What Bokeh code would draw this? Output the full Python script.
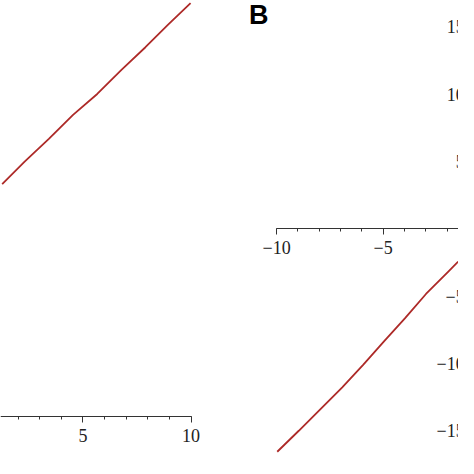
from bokeh.plotting import figure
from bokeh.models import LinearAxis, FixedTicker, Range1d, Label
from bokeh.layouts import row
from bokeh.embed import file_html
from bokeh.resources import INLINE

# ---- data ----
# Panel A (left, partly cut off)
a_x = [1.26, 2.30, 3.42, 4.54, 5.66, 6.78, 7.89, 8.94, 9.98]
a_y = [17.32, 18.99, 20.68, 22.47, 24.03, 25.83, 27.51, 29.19, 30.79]
a_xticks = [0, 5, 10]
a_xminor = list(range(0, 11))

# Panel B (right, partly cut off)
b_x = [-9.97, -8.96, -6.92, -5.94, -4.95, -3.97, -2.99, -1.93, -1.48]
b_y = [-16.56, -15.0, -11.77, -10.1, -8.34, -6.63, -4.84, -3.16, -2.44]
b_xticks = [-10, -5, 0, 5, 10]
b_xminor = list(range(-10, 11))
b_yticks = [-15, -10, -5, 5, 10, 15]
b_xlabels = {-10: "\u221210", -5: "\u22125", 0: "0", 5: "5", 10: "10"}
b_ylabels = {-15: "\u221215", -10: "\u221210", -5: "\u22125", 5: "5", 10: "10", 15: "15"}
panel_label = "B"

LINE_COLOR = "#ad2a28"
AXIS_COLOR = "#333333"
SERIF = "Liberation Serif"


def make_fig(w, h, xr, yr):
    p = figure(width=w, height=h, x_range=Range1d(*xr), y_range=Range1d(*yr),
               x_axis_location=None, y_axis_location=None,
               output_backend="svg", toolbar_location=None,
               min_border=0, min_border_left=0, min_border_right=0,
               min_border_top=0, min_border_bottom=0)
    p.xgrid.visible = False
    p.ygrid.visible = False
    p.outline_line_color = None
    p.background_fill_color = "white"
    p.border_fill_color = "white"
    return p


def style_x_axis(ax):
    ax.axis_line_color = AXIS_COLOR
    ax.axis_line_width = 1
    ax.major_tick_line_color = AXIS_COLOR
    ax.minor_tick_line_color = AXIS_COLOR
    ax.major_tick_in = 0
    ax.major_tick_out = 6
    ax.minor_tick_in = 0
    ax.minor_tick_out = 3
    ax.major_label_text_font = SERIF
    ax.major_label_text_font_size = "18px"
    ax.major_label_text_color = "#222222"
    ax.major_label_standoff = 6


# ---- Panel A ----
pa = make_fig(232, 458, (1.183, 11.92), (-3.115, 30.99))
axa = LinearAxis(fixed_location=0, ticker=FixedTicker(ticks=a_xticks, minor_ticks=a_xminor),
                 bounds=(0, 10))
style_x_axis(axa)
pa.add_layout(axa, "below")
pa.line(a_x, a_y, line_color=LINE_COLOR, line_width=1.8)

# ---- Panel B ----
pb = make_fig(226, 458, (-12.07, -1.464), (-17.06, 16.96))
axb = LinearAxis(fixed_location=0, ticker=FixedTicker(ticks=b_xticks, minor_ticks=b_xminor),
                 bounds=(-10, 10), major_label_overrides=b_xlabels)
style_x_axis(axb)
pb.add_layout(axb, "below")

ayb = LinearAxis(fixed_location=0, ticker=FixedTicker(ticks=b_yticks),
                 major_label_overrides=b_ylabels)
ayb.axis_line_color = None
ayb.major_tick_line_color = None
ayb.minor_tick_line_color = None
ayb.major_tick_in = 0
ayb.major_tick_out = 0
ayb.minor_tick_in = 0
ayb.minor_tick_out = 0
ayb.major_label_text_font = SERIF
ayb.major_label_text_font_size = "18px"
ayb.major_label_text_color = "#222222"
ayb.major_label_standoff = 25
pb.add_layout(ayb, "left")

pb.line(b_x, b_y, line_color=LINE_COLOR, line_width=1.8)

pb.add_layout(Label(x=-11.296, y=15.91, text=panel_label, text_font="Liberation Sans",
                    text_font_style="bold", text_font_size="27px",
                    text_baseline="alphabetic", text_align="left", text_color="black"))

layout = row(pa, pb)
open("out.html", "w").write(file_html(layout, INLINE))
